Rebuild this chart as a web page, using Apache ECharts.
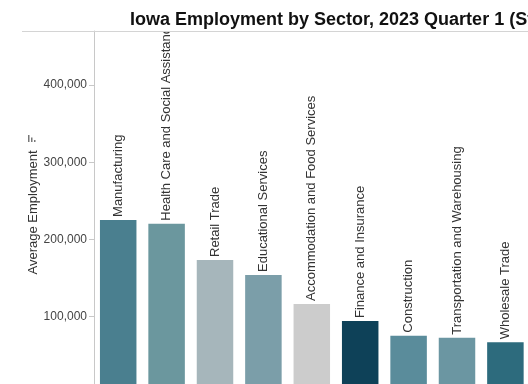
<!DOCTYPE html>
<html>
<head>
<meta charset="utf-8">
<script src="https://cdn.jsdelivr.net/npm/echarts@6/dist/echarts.min.js"></script>
<style>html,body{margin:0;padding:0;background:#fff}#c{width:528px;height:384px}</style>
</head>
<body>
<div id="c"></div>
<script>
const categories = ["Manufacturing", "Health Care and Social Assistance", "Retail Trade", "Educational Services", "Accommodation and Food Services", "Finance and Insurance", "Construction", "Transportation and Warehousing", "Wholesale Trade"];
const employment = [225300, 220500, 173400, 154000, 116500, 94400, 75400, 72800, 66800];
const barColors = ["#4a7f8f", "#6b979e", "#a6b6bb", "#7b9ea9", "#cccccc", "#0e4158", "#5a8c9b", "#6b96a2", "#2d6b7d"];
const titleText = "Iowa Employment by Sector, 2023 Quarter 1 (Statewide)";
const yAxisName = "Average Employment";

const chart = echarts.init(document.getElementById('c'), null, {renderer: 'canvas'});
chart.setOption({
  animation: false,
  textStyle: {fontFamily: 'Liberation Sans, Arial, sans-serif'},
  title: {
    text: titleText, left: 125, top: 6, z: 60,
    textStyle: {fontSize: 18, fontWeight: 'bold', color: '#111', fontFamily: 'Liberation Sans, Arial, sans-serif'}
  },
  grid: {left: 94, top: 31, width: 435.6, height: 362.9, containLabel: false, outerBoundsMode: 'none'},
  xAxis: {
    type: 'category', data: categories,
    axisLine: {show: false}, axisTick: {show: false}, axisLabel: {show: false}
  },
  yAxis: {
    type: 'value', min: 0, max: 470000, interval: 100000,
    name: yAxisName, nameLocation: 'middle', nameGap: 54, nameMoveOverlap: false,
    nameTextStyle: {fontSize: 13, color: '#333'},
    axisLine: {show: true, lineStyle: {color: '#c8c8c8'}},
    axisTick: {show: true, length: 5, lineStyle: {color: '#c8c8c8'}},
    axisLabel: {showMaxLabel: false, fontSize: 12, color: '#444', margin: 7,
      formatter: v => v.toLocaleString('en-US')},
    splitLine: {show: false}
  },
  graphic: [
    {type: 'rect', shape: {x: 140, y: 0, width: 60, height: 31}, style: {fill: '#fff'}, z: 50},
    {type: 'line', shape: {x1: 22, y1: 31.5, x2: 528, y2: 31.5}, style: {stroke: '#d4d4d4', lineWidth: 1}, z: 55},
    {type: 'rect', shape: {x: 28, y: 135, width: 1.5, height: 7}, style: {fill: '#777'}, z: 55},
    {type: 'rect', shape: {x: 31, y: 137.5, width: 1.5, height: 4.5}, style: {fill: '#777'}, z: 55},
    {type: 'rect', shape: {x: 34, y: 140, width: 1.5, height: 2}, style: {fill: '#777'}, z: 55}
  ],
  series: [{
    type: 'bar',
    data: employment.map((v, i) => ({value: v, itemStyle: {color: barColors[i]}})),
    barWidth: 36.5,
    label: {
      show: true, position: 'top', rotate: 90, align: 'left', verticalAlign: 'middle',
      distance: 3, fontSize: 13, color: '#333',
      formatter: p => p.name
    }
  }]
});
</script>
</body>
</html>
